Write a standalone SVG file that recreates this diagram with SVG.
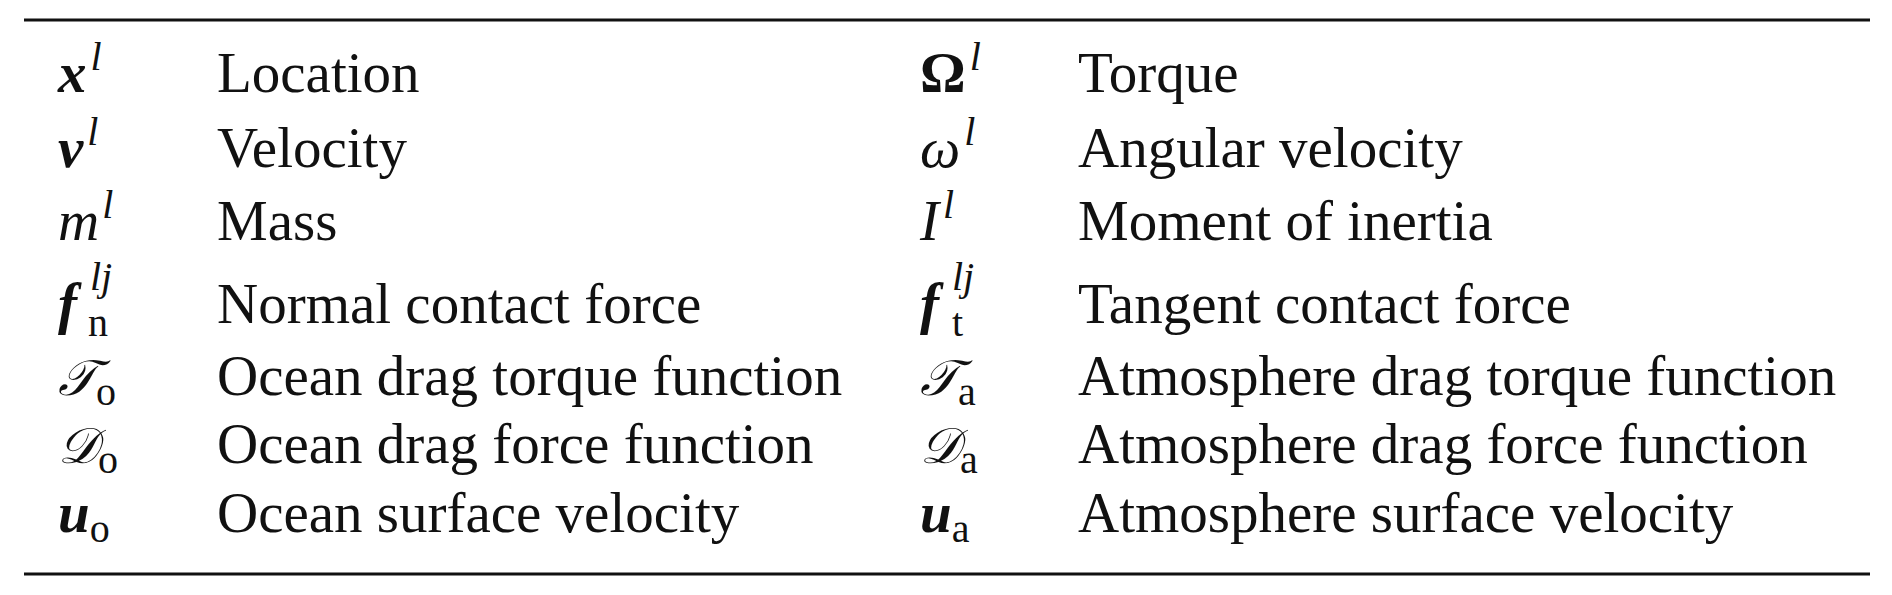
<svg xmlns="http://www.w3.org/2000/svg" width="1892" height="595" viewBox="0 0 1892 595">
<style>
text{font-family:"Liberation Serif","DejaVu Serif",serif;font-size:57px;fill:#111}
.b{font-weight:bold;font-style:italic}
.i{font-style:italic}
.s{font-size:40px}
.c{font-family:"DejaVu Serif",serif;font-style:italic;font-size:50px}
line{stroke:#111;stroke-width:3}
</style>
<rect width="1892" height="595" fill="#fff"/>
<line x1="24" y1="20" x2="1870" y2="20"/>
<line x1="24" y1="574" x2="1870" y2="574"/>
<g id="col1sym">
<text x="58" y="92"><tspan class="b">x</tspan><tspan class="i s" dx="4" dy="-22">l</tspan></text>
<text x="58" y="167"><tspan class="b">v</tspan><tspan class="i s" dx="4" dy="-22">l</tspan></text>
<text x="58" y="240"><tspan class="i">m</tspan><tspan class="i s" dx="3" dy="-22">l</tspan></text>
<text x="58" y="323" class="b">f</text>
<text x="90" y="290" class="i s">lj</text>
<text x="88" y="336" class="s">n</text>
<text x="58" y="395"><tspan class="c">𝒯</tspan><tspan class="s" dy="10">o</tspan></text>
<text x="58" y="463"><tspan class="c">𝒟</tspan><tspan class="s" dy="10">o</tspan></text>
<text x="58" y="532"><tspan class="b">u</tspan><tspan class="s" dy="10">o</tspan></text>
</g>
<g id="col1desc">
<text x="217" y="92">Location</text>
<text x="217" y="167">Velocity</text>
<text x="217" y="240">Mass</text>
<text x="217" y="323">Normal contact force</text>
<text x="217" y="395">Ocean drag torque function</text>
<text x="217" y="463">Ocean drag force function</text>
<text x="217" y="532">Ocean surface velocity</text>
</g>
<g id="col2sym">
<text x="920" y="92"><tspan font-weight="bold">Ω</tspan><tspan class="i s" dx="4" dy="-22">l</tspan></text>
<text x="920" y="167"><tspan class="i">ω</tspan><tspan class="i s" dx="4" dy="-22">l</tspan></text>
<text x="920" y="240"><tspan class="i">I</tspan><tspan class="i s" dx="4" dy="-22">l</tspan></text>
<text x="920" y="323" class="b">f</text>
<text x="952" y="290" class="i s">lj</text>
<text x="952" y="336" class="s">t</text>
<text x="920" y="395"><tspan class="c">𝒯</tspan><tspan class="s" dy="10">a</tspan></text>
<text x="920" y="463"><tspan class="c">𝒟</tspan><tspan class="s" dy="10">a</tspan></text>
<text x="920" y="532"><tspan class="b">u</tspan><tspan class="s" dy="10">a</tspan></text>
</g>
<g id="col2desc">
<text x="1078" y="92">Torque</text>
<text x="1078" y="167">Angular velocity</text>
<text x="1078" y="240">Moment of inertia</text>
<text x="1078" y="323">Tangent contact force</text>
<text x="1078" y="395">Atmosphere drag torque function</text>
<text x="1078" y="463">Atmosphere drag force function</text>
<text x="1078" y="532">Atmosphere surface velocity</text>
</g>
</svg>
